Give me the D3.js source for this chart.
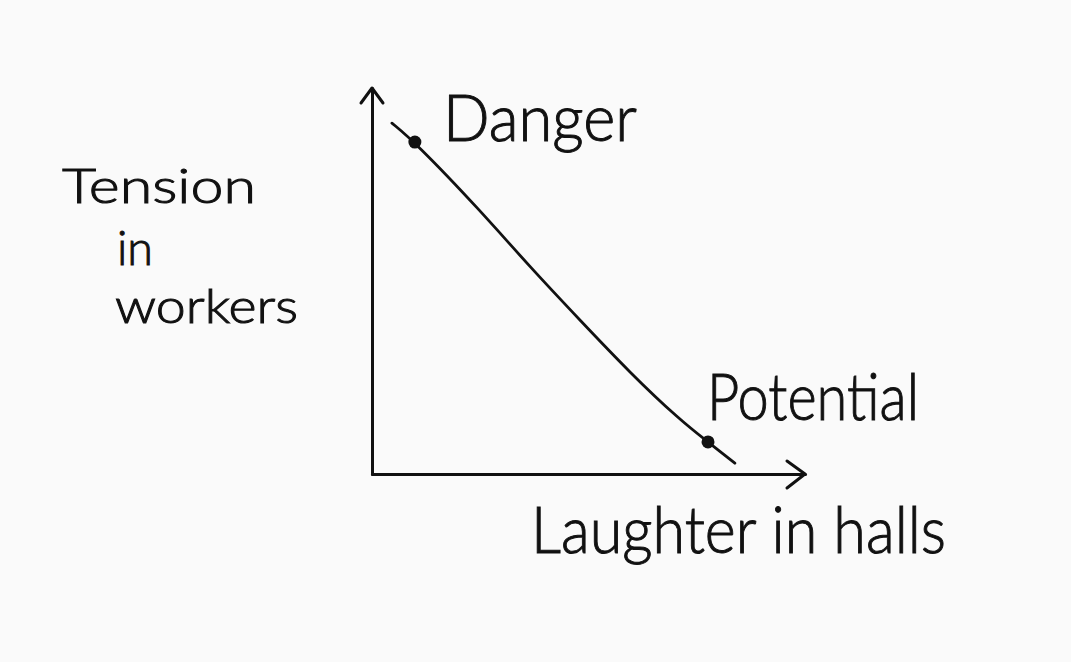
<!DOCTYPE html>
<html><head><meta charset="utf-8">
<script src="https://cdn.jsdelivr.net/npm/d3@7"></script>
<style>
html,body{margin:0;padding:0;background:#fafafa;}
svg{display:block;}
text{font-family:Lato,"Open Sans",sans-serif;font-weight:300;fill:#111;stroke:#111;stroke-width:1;}
</style></head><body>
<svg id="c" width="1071" height="662"></svg>
<script>
// data (arbitrary 0-100 units)
const curveX = [4.6, 9.9, 24.9, 36.5, 48.0, 59.6, 71.1, 77.6, 83.8];
const curveY = [90.9, 86.0, 68.4, 53.6, 39.9, 26.2, 14.0, 8.3, 2.8];
const pointLabels = ["Danger", "Potential"];
const pointX = [9.9, 77.6];
const pointY = [86.0, 8.3];
const yLabelLines = ["Tension", "in", "workers"];
const xLabel = "Laughter in halls";

const svg = d3.select("#c");
const x = d3.scaleLinear().domain([0, 100]).range([372, 805]);
const y = d3.scaleLinear().domain([0, 100]).range([474, 88]);
const ink = "#111";

// axes as lines (no ticks)
const xAxis = d3.axisBottom(x).tickValues([]).tickSizeOuter(0);
const yAxis = d3.axisLeft(y).tickValues([]).tickSizeOuter(0);
svg.append("g").attr("transform", `translate(0,${y(0)})`).call(xAxis)
  .call(g => g.select(".domain").attr("stroke", ink).attr("stroke-width", 3).attr("stroke-linecap","round"));
svg.append("g").attr("transform", `translate(${x(0)},0)`).call(yAxis)
  .call(g => g.select(".domain").attr("stroke", ink).attr("stroke-width", 3).attr("stroke-linecap","round"));

// arrowheads
const arrow = d3.line();
svg.append("path")
  .attr("d", arrow([[x(0) - 11, y(100) + 15], [x(0), y(100)], [x(0) + 11, y(100) + 15]]))
  .attr("fill", "none").attr("stroke", ink).attr("stroke-width", 3)
  .attr("stroke-linecap", "round").attr("stroke-linejoin", "round");
svg.append("path")
  .attr("d", arrow([[x(100) - 18, y(0) - 13], [x(100), y(0)], [x(100) - 18, y(0) + 14]]))
  .attr("fill", "none").attr("stroke", ink).attr("stroke-width", 3)
  .attr("stroke-linecap", "round").attr("stroke-linejoin", "round");

// curve
const pts = curveX.map((v, i) => [x(v), y(curveY[i])]);
svg.append("path")
  .attr("d", d3.line().curve(d3.curveBasis)(pts))
  .attr("fill", "none").attr("stroke", ink).attr("stroke-width", 2.8)
  .attr("stroke-linecap", "round");

// points
svg.selectAll("circle.pt").data(pointX).enter().append("circle")
  .attr("class", "pt")
  .attr("cx", d => x(d)).attr("cy", (d, i) => y(pointY[i]))
  .attr("r", 6.5).attr("fill", ink);

// point labels
const labelPos = [[443, 141, 194], [707, 420, 212]];
svg.selectAll("text.pl").data(pointLabels).enter().append("text")
  .attr("class", "pl")
  .attr("x", (d, i) => labelPos[i][0]).attr("y", (d, i) => labelPos[i][1])
  .attr("font-size", 66)
  .attr("textLength", (d, i) => labelPos[i][2]).attr("lengthAdjust", "spacingAndGlyphs")
  .text(d => d);

// y label
const yPos = [[62, 203, 194], [117, 265, 36], [115, 323, 183]];
svg.selectAll("text.yl").data(yLabelLines).enter().append("text")
  .attr("class", "yl")
  .attr("x", (d, i) => yPos[i][0]).attr("y", (d, i) => yPos[i][1])
  .attr("font-size", 48)
  .attr("textLength", (d, i) => yPos[i][2]).attr("lengthAdjust", "spacingAndGlyphs")
  .text(d => d);

// x label
svg.append("text")
  .attr("x", 531).attr("y", 553)
  .attr("font-size", 66)
  .attr("textLength", 415).attr("lengthAdjust", "spacingAndGlyphs")
  .text(xLabel);
</script>
</body></html>
